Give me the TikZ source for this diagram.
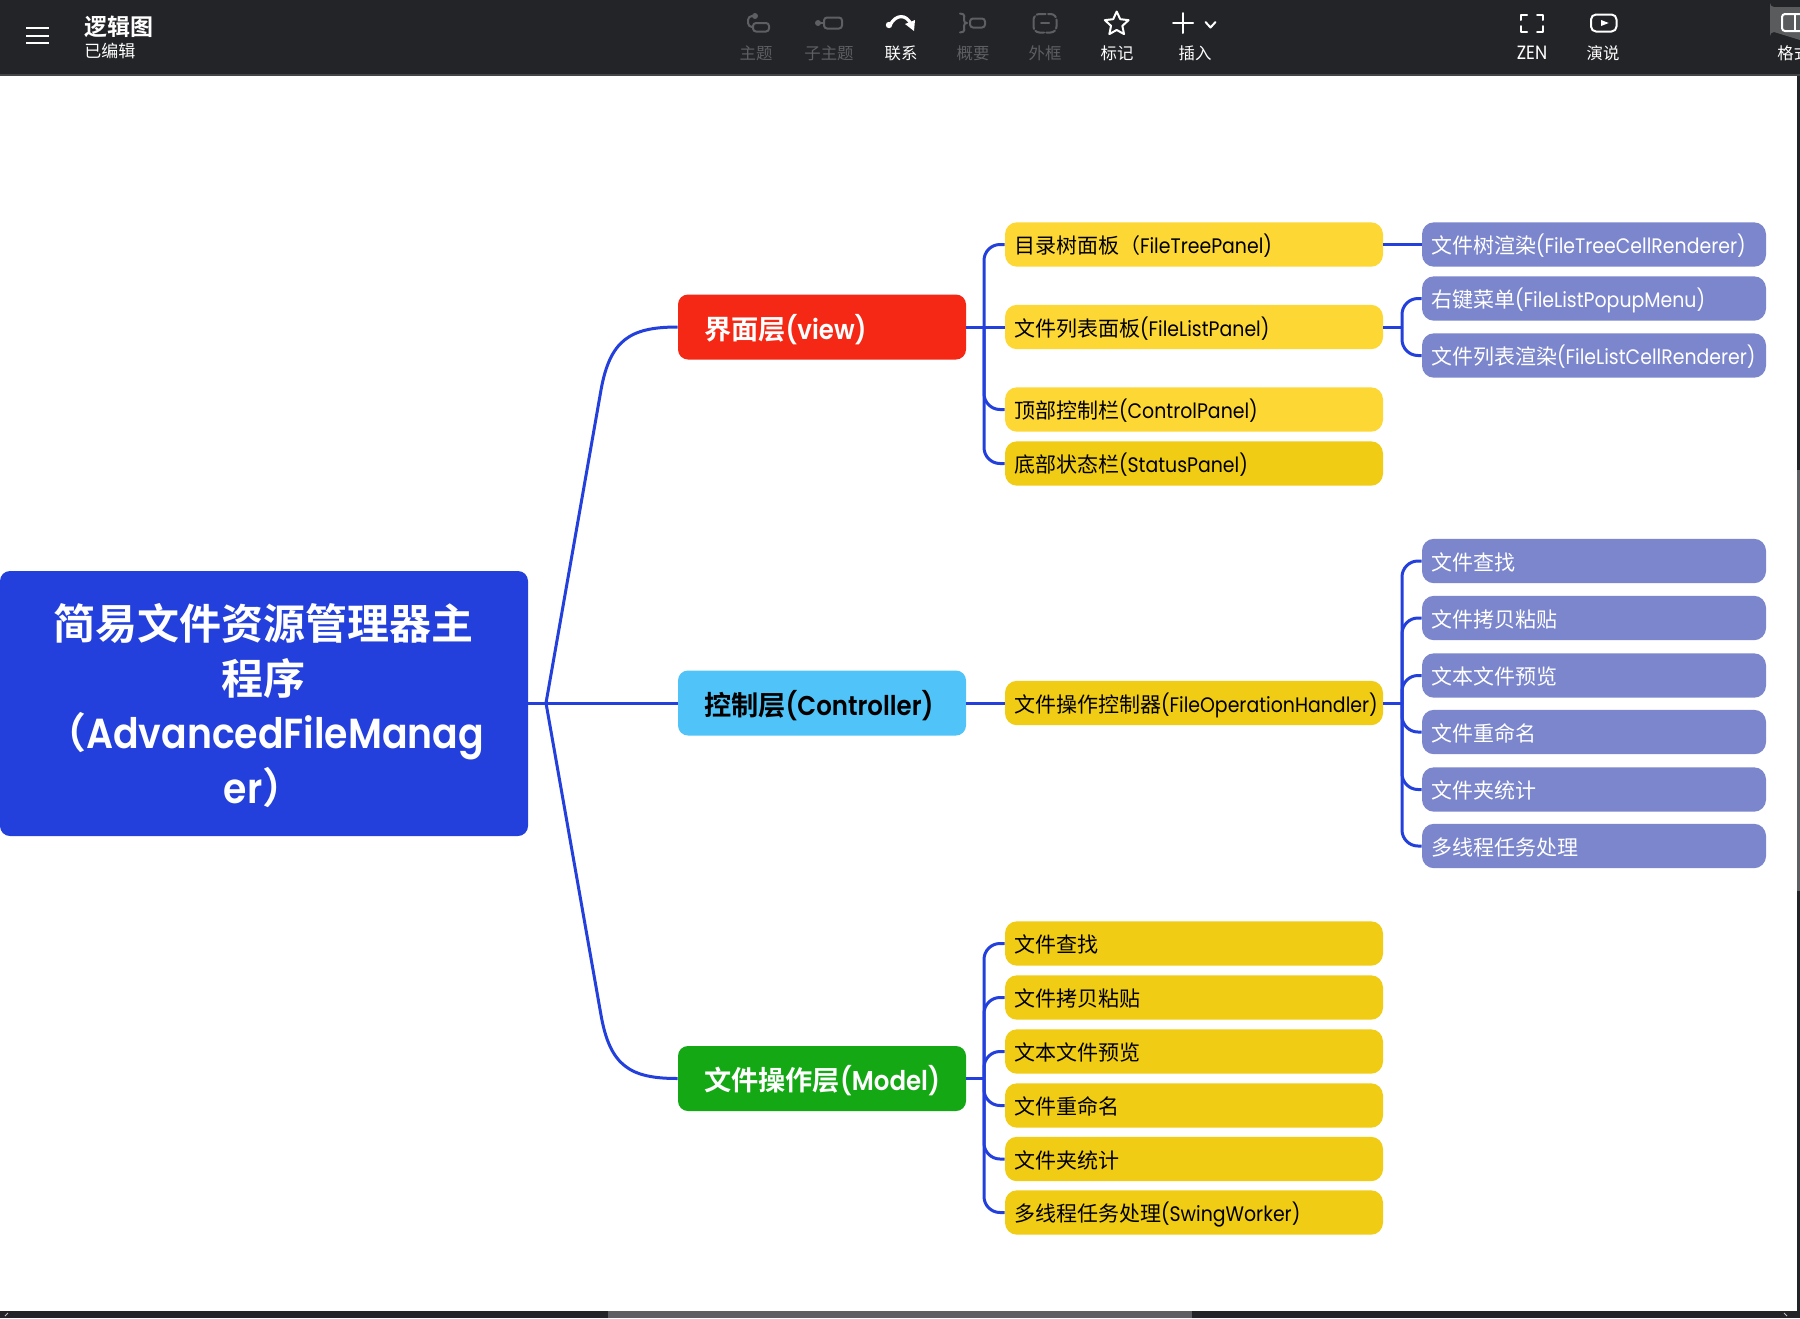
\documentclass[tikz,border=0pt]{standalone}
\usepackage{fontspec}
\usetikzlibrary{shapes.geometric}
\setmainfont[FakeStretch=0.9]{Poppins}
\newfontfamily\latb[FakeStretch=0.9]{Poppins SemiBold}
\newfontfamily\cjk{Noto Sans CJK SC}
\newfontfamily\cjkb{Noto Sans CJK SC Bold}
\definecolor{link}{HTML}{2340DC}
\definecolor{barbg}{HTML}{232427}
\definecolor{yA}{HTML}{FDD835}
\definecolor{yB}{HTML}{F0CC14}
\definecolor{pur}{HTML}{7B86CC}
\definecolor{redn}{HTML}{F42814}
\definecolor{bluen}{HTML}{50C4F8}
\definecolor{green}{HTML}{14A814}
\definecolor{dim}{HTML}{5E5F62}
\newcommand{\zh}[1]{{\cjk #1}}
\newcommand{\zhb}[1]{{\cjkb #1}}
\tikzset{
 rootbox/.style={rounded corners=5pt,fill=link,text=white,inner sep=0pt,minimum width=264pt,minimum height=132.5pt,align=center,font=\fontsize{21}{27.3}\selectfont\latb},
 one/.style={rounded corners=5pt,inner sep=0pt,minimum width=144pt,minimum height=32.5pt,text height=14.6pt,text depth=2.4pt,font=\fontsize{13.6}{16}\selectfont\latb},
 two/.style={rounded corners=6pt,inner sep=0pt,minimum width=189pt,minimum height=22.2pt,text height=10.3pt,text depth=1.2pt,text=black,font=\fontsize{10.5}{12}\selectfont},
 three/.style={rounded corners=6pt,inner sep=0pt,minimum width=172pt,minimum height=22.2pt,text height=10.3pt,text depth=1.2pt,fill=pur,text=white,font=\fontsize{10.5}{12}\selectfont},
 ylw/.style={fill=yA},
 ylwb/.style={fill=yB},
 conn/.style={draw=link,line width=1.5pt},
 branch/.style={conn,rounded corners=8pt},
 tool/.style={text=white,font=\fontsize{8.2}{10}\selectfont,inner sep=0pt},
 tooldim/.style={text=dim,font=\fontsize{8.2}{10}\selectfont,inner sep=0pt},
 icon/.style={draw=white,line width=1pt,line cap=round,line join=round},
 icondim/.style={draw=dim,line width=1pt,line cap=round,line join=round},
}
\newcommand{\twotxt}[1]{\makebox[180pt][l]{#1}}
\newcommand{\threetxt}[1]{\makebox[163pt][l]{#1}}
\begin{document}
\begin{tikzpicture}[x=0.5pt,y=-0.5pt]
\useasboundingbox (0,0) rectangle (1800,1318);
\fill[white] (0,0) rectangle (1800,1318);
% bars
\fill[barbg] (0,0) rectangle (1800,75);
\fill[barbg!85!white] (0,74) rectangle (1800,76);
\fill[barbg] (0,1311) rectangle (1800,1318);
\fill[dim] (608,1311) rectangle (1192,1318);
\fill[barbg] (1797,76) rectangle (1800,1311);
\fill[dim] (1797,470) rectangle (1800,891);
\draw[white!70!barbg,line width=0.4pt] (8,1313) -- (5,1316) (1784,1313) -- (1787,1316);
% nodes
\fill[link,rounded corners=5pt] (0,571) rectangle (528,836);
\node[rootbox,fill=none] (root) at (264,705.5) {\zhb{简易文件资源管理器主}\\\zhb{程序}\\\zhb{（}AdvancedFileManag\\er\zhb{）}};
\node[one,fill=redn,text=white] (v) at (822,327) {\makebox[118pt][l]{\zhb{界面层}(view)}};
\node[one,fill=bluen,text=black] (c) at (822,703) {\makebox[118pt][l]{\zhb{控制层}(Controller)}};
\node[one,fill=green,text=white] (m) at (822,1078.5) {\makebox[118pt][l]{\zhb{文件操作层}(Model)}};
% level 2
\node[two,ylw] (v1) at (1194,244.5) {\twotxt{\zh{目录树面板（}FileTreePanel)}};
\node[two,ylw] (v2) at (1194,327) {\twotxt{\zh{文件列表面板}(FileListPanel)}};
\node[two,ylw] (v3) at (1194,409.5) {\twotxt{\zh{顶部控制栏}(ControlPanel)}};
\node[two,ylwb] (v4) at (1194,463.5) {\twotxt{\zh{底部状态栏}(StatusPanel)}};
\node[two,ylwb] (c1) at (1194,703) {\twotxt{\zh{文件操作控制器}(FileOperationHandler)}};
\node[two,ylwb] (m1) at (1194,943.5) {\twotxt{\zh{文件查找}}};
\node[two,ylwb] (m2) at (1194,997.5) {\twotxt{\zh{文件拷贝粘贴}}};
\node[two,ylwb] (m3) at (1194,1051.5) {\twotxt{\zh{文本文件预览}}};
\node[two,ylwb] (m4) at (1194,1105.5) {\twotxt{\zh{文件重命名}}};
\node[two,ylwb] (m5) at (1194,1159) {\twotxt{\zh{文件夹统计}}};
\node[two,ylwb] (m6) at (1194,1212.5) {\twotxt{\zh{多线程任务处理}(SwingWorker)}};
% level 3
\node[three] (t1) at (1594,244.5) {\threetxt{\zh{文件树渲染}(FileTreeCellRenderer)}};
\node[three] (l1) at (1594,298.5) {\threetxt{\zh{右键菜单}(FileListPopupMenu)}};
\node[three] (l2) at (1594,355.5) {\threetxt{\zh{文件列表渲染}(FileListCellRenderer)}};
\node[three] (h1) at (1594,561) {\threetxt{\zh{文件查找}}};
\node[three] (h2) at (1594,618) {\threetxt{\zh{文件拷贝粘贴}}};
\node[three] (h3) at (1594,675.5) {\threetxt{\zh{文本文件预览}}};
\node[three] (h4) at (1594,732) {\threetxt{\zh{文件重命名}}};
\node[three] (h5) at (1594,789.5) {\threetxt{\zh{文件夹统计}}};
\node[three] (h6) at (1594,846) {\threetxt{\zh{多线程任务处理}}};
% connectors
\coordinate (rj) at (546,703);
\coordinate (vj) at (984,327);
\coordinate (mj) at (984,1078.5);
\coordinate (lj) at (1402,327);
\coordinate (hj) at (1402,703);
\draw[conn] (root.east |- c.west) -- (c.west);
\draw[conn] (rj) -- (601,390) .. controls (610,340) and (630,327) .. (v.west);
\draw[conn] (rj) -- (601,1015) .. controls (610,1066) and (630,1078.5) .. (m.west);
\draw[conn] (v.east) -- (v2.west);
\draw[conn] (m.east) -- (mj);
\draw[conn] (c.east) -- (c1.west);
\draw[conn] (v1.east) -- (t1.west);
\draw[conn] (v2.east) -- (lj);
\draw[conn] (c1.east) -- (hj);
\foreach \k in {v1,v3,v4} \draw[branch] (vj) |- (\k.west);
\foreach \k in {m1,m2,m3,m4,m5,m6} \draw[branch] (mj) |- (\k.west);
\foreach \k in {l1,l2} \draw[branch] (lj) |- (\k.west);
\foreach \k in {h1,h2,h3,h4,h5,h6} \draw[branch] (hj) |- (\k.west);
% toolbar text
\node[text=white,anchor=west,inner sep=0pt,font=\fontsize{11.5}{13}\selectfont] (ttl) at (84,27) {\zhb{逻辑图}};
\node[text=white,anchor=west,inner sep=0pt,font=\fontsize{8.5}{10}\selectfont] (sub) at (84,51) {\zh{已编辑}};
\draw[white,line width=1pt] (26,28) -- (49,28) (26,35.5) -- (49,35.5) (26,43) -- (49,43);
\node[tooldim] (a1) at (756,53) {\zh{主题}};
\node[tooldim] (a2) at (829,53) {\zh{子主题}};
\node[tool] (a3) at (901,53) {\zh{联系}};
\node[tooldim] (a4) at (973,53) {\zh{概要}};
\node[tooldim] (a5) at (1045,53) {\zh{外框}};
\node[tool] (a6) at (1117,53) {\zh{标记}};
\node[tool] (a7) at (1195,53) {\zh{插入}};
\node[tool,font=\fontsize{9.6}{10}\selectfont] (a8) at (1532,53) {ZEN};
\node[tool] (a9) at (1603,53) {\zh{演说}};
\node[tool,anchor=west] (a10) at (1777,53) {\zh{格式}};
% toolbar icons
\draw[icondim,rounded corners=1.5pt] (753,23) rectangle (769,31.5);
\fill[dim] (755,16) circle (3);
\draw[icondim,rounded corners=2pt] (755,16) -- (748,16) -- (748,27) -- (753,27);
\fill[dim] (818,23) circle (3);
\draw[icondim] (818,23) -- (824,23);
\draw[icondim,rounded corners=1.5pt] (824,17.5) rectangle (842,28.5);
\draw[white,line width=1.6pt] (890,25) .. controls (896,14) and (906,14) .. (911,24);
\fill[white] (889,25) circle (3.2);
\fill[white] (905,24) -- (915,20) -- (914,31) -- cycle;
\draw[icondim] (960,13.5) .. controls (966,13.5) and (964,18) .. (964,20) .. controls (964,22) and (965,23) .. (967,23) .. controls (965,23) and (964,24) .. (964,26) .. controls (964,28) and (966,32.5) .. (960,32.5);
\draw[icondim,rounded corners=1.5pt] (970,18.5) rectangle (985,27.5);
\draw[icondim,rounded corners=3pt,dash pattern=on 4.5pt off 1.2pt] (1033.5,14) rectangle (1056.5,32.5);
\draw[icondim] (1041,23.3) -- (1049,23.3);
\node[star,star points=5,star point ratio=2.1,draw=white,line width=1pt,minimum size=12.5pt,inner sep=0pt,line join=round] (staricon) at (1116.7,24) {};
\draw[icon] (1173,23) -- (1193,23) (1183,13) -- (1183,33);
\draw[icon] (1205.5,22) -- (1210.5,27.5) -- (1215.5,22);
\draw[icon] (1521,20) -- (1521,14.5) -- (1527,14.5) (1537,14.5) -- (1543,14.5) -- (1543,20) (1543,26) -- (1543,31.5) -- (1537,31.5) (1527,31.5) -- (1521,31.5) -- (1521,26);
\draw[icon,rounded corners=2.5pt] (1591,14.5) rectangle (1616.5,31.5);
\fill[white] (1601,20) -- (1608.7,23) -- (1601,26) -- cycle;
\fill[white!25!barbg] (1800,7) -- (1774,7) arc[start angle=90,end angle=180,radius=4] -- (1770,36) arc[start angle=180,end angle=270,radius=4] -- (1800,40) -- cycle;
\draw[icon,rounded corners=1.5pt] (1782,14) rectangle (1806,31);
\draw[icon] (1795,14) -- (1795,31);
\end{tikzpicture}
\end{document}
